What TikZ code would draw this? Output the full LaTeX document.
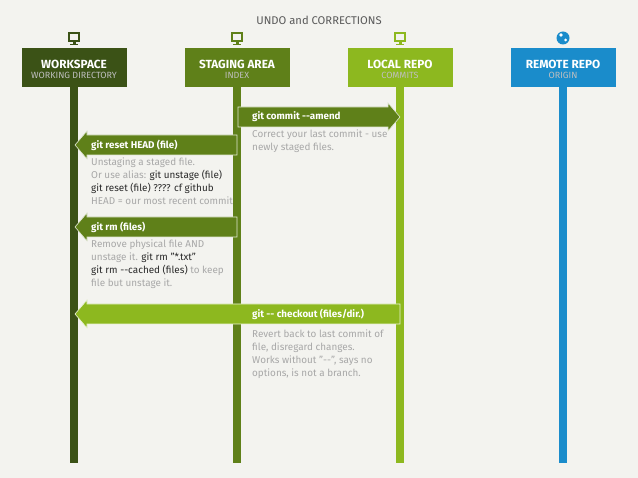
\documentclass[tikz,border=0pt]{standalone}
\usepackage{fontspec}
\setmainfont{Fira Sans}
\definecolor{bg}{HTML}{F3F3EF}
\definecolor{cws}{HTML}{3B5216}
\definecolor{cst}{HTML}{5F8019}
\definecolor{clr}{HTML}{8DB81F}
\definecolor{crr}{HTML}{1A8CCB}
\definecolor{gtxt}{HTML}{A8A8A8}
\definecolor{dtxt}{HTML}{2A2A2A}
\tikzset{
  hdr/.style={fill=#1, minimum width=105pt, minimum height=39pt, inner sep=0pt},
  lane/.style={line width=8pt, draw=#1},
  cmd/.style={text=white, font=\bfseries\fontsize{9.8}{10}\selectfont, anchor=west, inner sep=0pt},
  desc/.style={text=gtxt, font=\fontsize{9.9}{13}\selectfont, anchor=north west, align=left, inner sep=0pt},
  arr/.style={fill=#1, draw=white!80!#1, line width=0.6pt}
}
\newcommand{\dk}[1]{\textcolor{dtxt}{#1}}
\newcommand{\dd}{{-}{-}}
\newcommand{\qq}{\symbol{"22}}
\begin{document}
\begin{tikzpicture}[x=1pt,y=-1pt]
\fill[bg] (0,0) rectangle (638,478);
\useasboundingbox (0,0) rectangle (638,478);
\node[text=black!65, font=\fontsize{11.2}{12}\selectfont] (title) at (319,20) {UNDO and CORRECTIONS};
% lanes
\foreach \n/\x/\c in {a/74/cws,b/237/cst,c/400/clr,d/563/crr}{
  \coordinate (\n top) at (\x,87);
  \coordinate (\n bot) at (\x,463);
  \draw[lane=\c] (\n top) -- (\n bot);
}
\node[hdr=cws] (ws) at (74,67.5) {};
\node[hdr=cst] (st) at (237,67.5) {};
\node[hdr=clr] (lr) at (400,67.5) {};
\node[hdr=crr] (rr) at (563,67.5) {};
\foreach \n/\a/\b in {ws/WORKSPACE/WORKING DIRECTORY, st/STAGING AREA/INDEX, lr/LOCAL REPO/COMMITS, rr/REMOTE REPO/ORIGIN}{
  \node[text=white, font=\bfseries\fontsize{11.8}{12}\selectfont] at ([yshift=3.5pt]\n.center) {\a};
  \node[text=white!75!black, font=\fontsize{9}{10}\selectfont] at ([yshift=-7.5pt]\n.center) {\b};
}
% icons
\foreach \x/\c in {74/cws,237/cst,400/clr}{
  \draw[\c, line width=1.6pt] (\x-5,33) rectangle (\x+5,41);
  \fill[\c] (\x-1.5,42) rectangle (\x+1.5,44);
  \fill[\c] (\x-4,44) rectangle (\x+4,45.2);
}
\fill[crr] (563,38) circle (6.5);
\fill[white] (561,35) circle (1.8) (565.5,40) circle (1.5);
% arrows
\path[arr=cst] (238,107) -- (388,107) -- (388,103) -- (400,117) -- (388,131) -- (388,127) -- (238,127) -- cycle;
\node[cmd] (amend) at (252,117) {git commit \dd amend};
\node[desc] (amendd) at (252,130) {Correct your last commit - use\\newly staged files.};

\path[arr=cst] (237,135) -- (87,135) -- (87,131) -- (75,145) -- (87,159) -- (87,155) -- (237,155) -- cycle;
\node[cmd] (reset) at (91,145) {git reset HEAD (file)};
\node[desc] (resetd) at (91,158) {Unstaging a staged file.\\Or use alias: \dk{git unstage (file)}\\\dk{git reset (file) ???? cf github}\\HEAD = our most recent commit};

\path[arr=cst] (237,217) -- (87,217) -- (87,213) -- (75,227) -- (87,241) -- (87,237) -- (237,237) -- cycle;
\node[cmd] (rm) at (91,227) {git rm (files)};
\node[desc] (rmd) at (91,240) {Remove physical file AND\\unstage it. \dk{git rm \qq*.txt\qq}\\\dk{git rm \dd cached (files)} to keep\\file but unstage it.};

\path[arr=clr] (400,304) -- (87,304) -- (87,300) -- (75,314) -- (87,328) -- (87,324) -- (400,324) -- cycle;
\node[cmd] (co) at (252,314) {git \dd\ checkout (files/dir.)};
\node[desc] (cod) at (252,330) {Revert back to last commit of\\file, disregard changes.\\Works without \qq\dd\qq, says no\\options, is not a branch.};
\end{tikzpicture}
\end{document}
